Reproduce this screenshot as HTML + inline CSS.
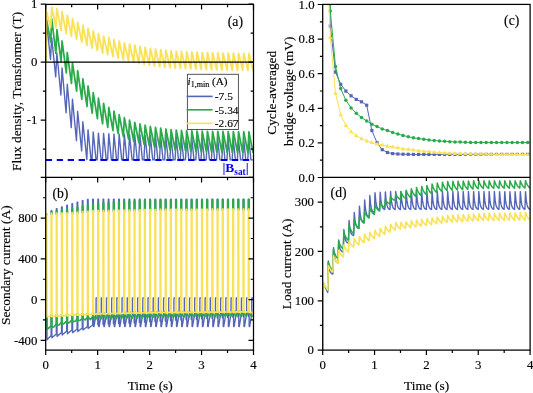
<!DOCTYPE html>
<html><head><meta charset="utf-8"><style>
html,body{margin:0;padding:0;background:#fff;}
body{width:533px;height:393px;overflow:hidden;font-family:"Liberation Serif",serif;}
svg{display:block;will-change:transform;}
</style></head><body>
<svg width="533" height="393" viewBox="0 0 533 393">
<rect width="533" height="393" fill="#fff"/>
<defs>
<clipPath id="ca"><rect x="45.7" y="4.4" width="207.8" height="173.0"/></clipPath>
<clipPath id="cb"><rect x="45.7" y="177.4" width="207.8" height="172.70000000000002"/></clipPath>
<clipPath id="cc"><rect x="322.7" y="4.4" width="207.40000000000003" height="173.0"/></clipPath>
<clipPath id="cd"><rect x="322.7" y="177.4" width="207.40000000000003" height="172.70000000000002"/></clipPath>
</defs>
<g clip-path="url(#ca)">
<path d="M46.00,62.10 L46.50,21.00 L50.50,59.40 L51.70,37.80 L55.69,76.90 L56.89,53.00 L60.88,95.00 L62.08,68.00 L66.07,112.80 L67.27,84.20 L71.26,127.60 L72.46,99.10 L76.45,140.60 L77.65,111.30 L81.64,150.90 L82.84,121.70 L86.83,159.50 L88.03,129.70 L91.05,159.90 L92.02,159.90 L93.22,132.00 L96.01,159.90 L97.21,159.90 L98.41,133.20 L101.08,159.90 L102.40,159.90 L103.60,133.47 L106.24,159.90 L107.59,159.90 L108.79,133.73 L111.41,159.90 L112.78,159.90 L113.98,134.00 L116.57,159.90 L117.97,159.90 L119.17,134.20 L121.74,159.90 L123.16,159.90 L124.36,134.40 L126.91,159.90 L128.35,159.90 L129.55,134.60 L132.08,159.90 L133.54,159.90 L134.74,134.80 L137.25,159.90 L138.73,159.90 L139.93,135.00 L142.42,159.90 L143.92,159.90 L145.12,135.38 L147.57,159.90 L149.11,159.90 L150.31,135.75 L152.72,159.90 L154.30,159.90 L155.50,136.12 L157.88,159.90 L159.49,159.90 L160.69,136.50 L163.03,159.90 L164.68,159.90 L165.88,136.88 L168.18,159.90 L169.87,159.90 L171.07,137.25 L173.33,159.90 L175.06,159.90 L176.26,137.62 L178.49,159.90 L180.25,159.90 L181.45,138.00 L183.64,159.90 L185.44,159.90 L186.64,138.21 L188.81,159.90 L190.63,159.90 L191.83,138.43 L193.98,159.90 L195.82,159.90 L197.02,138.64 L199.15,159.90 L201.01,159.90 L202.21,138.86 L204.31,159.90 L206.20,159.90 L207.40,139.07 L209.48,159.90 L211.39,159.90 L212.59,139.29 L214.65,159.90 L216.58,159.90 L217.78,139.50 L219.82,159.90 L221.77,159.90 L222.97,139.57 L225.00,159.90 L226.96,159.90 L228.16,139.64 L230.19,159.90 L232.15,159.90 L233.35,139.71 L235.37,159.90 L237.34,159.90 L238.54,139.79 L240.55,159.90 L242.53,159.90 L243.73,139.86 L245.73,159.90 L247.72,159.90 L248.92,139.93 L250.92,159.90 L252.91,159.90" fill="none" stroke="#5566b8" stroke-width="1.4" stroke-linejoin="round" />
<path d="M46.00,62.10 L46.50,19.60 L50.70,41.90 L51.70,18.90 L55.89,53.40 L56.89,29.60 L61.08,61.50 L62.08,41.00 L66.27,73.00 L67.27,52.50 L71.46,83.50 L72.46,63.00 L76.65,91.20 L77.65,70.70 L81.84,99.30 L82.84,78.80 L87.03,106.50 L88.03,86.00 L92.22,113.10 L93.22,92.60 L97.41,118.70 L98.41,98.20 L102.60,123.80 L103.60,103.30 L107.79,127.40 L108.79,107.40 L112.98,130.70 L113.98,111.20 L118.17,133.70 L119.17,114.70 L123.36,136.70 L124.36,117.70 L128.55,139.10 L129.55,120.10 L133.74,141.30 L134.74,122.30 L138.93,142.80 L139.93,123.80 L144.12,144.39 L145.12,125.20 L149.31,145.88 L150.31,126.50 L154.50,146.96 L155.50,127.40 L159.69,147.85 L160.69,128.10 L164.88,148.94 L165.88,129.00 L170.07,149.72 L171.07,129.60 L175.26,150.31 L176.26,130.00 L180.45,150.80 L181.45,130.30 L185.64,151.14 L186.64,130.60 L190.83,151.37 L191.83,130.80 L196.02,151.61 L197.02,131.00 L201.21,151.84 L202.21,131.20 L206.40,151.95 L207.40,131.27 L211.59,152.05 L212.59,131.33 L216.78,152.15 L217.78,131.40 L221.97,152.25 L222.97,131.47 L227.16,152.35 L228.16,131.53 L232.35,152.46 L233.35,131.60 L237.54,152.57 L238.54,131.68 L242.73,152.68 L243.73,131.75 L247.92,152.79 L248.92,131.82 L253.11,152.90" fill="none" stroke="#2aaa4a" stroke-width="1.75" stroke-linejoin="round" />
<path d="M46.00,62.10 L46.30,10.80 L50.70,27.20 L51.70,7.30 L55.89,27.50 L56.89,8.60 L61.08,30.50 L62.08,11.70 L66.27,33.60 L67.27,15.30 L71.46,36.10 L72.46,18.80 L76.65,39.20 L77.65,22.40 L81.84,42.27 L82.84,25.40 L87.03,45.33 L88.03,28.40 L92.22,48.00 L93.22,31.00 L97.41,50.60 L98.41,33.60 L102.60,53.10 L103.60,36.10 L107.79,54.70 L108.79,37.70 L112.98,56.60 L113.98,39.60 L118.17,58.20 L119.17,41.20 L123.36,59.80 L124.36,42.80 L128.55,61.03 L129.55,44.03 L133.74,62.27 L134.74,45.27 L138.93,63.50 L139.93,46.50 L144.12,64.40 L145.12,47.40 L149.31,65.30 L150.31,48.30 L154.50,66.20 L155.50,49.20 L159.69,66.70 L160.69,49.70 L164.88,67.20 L165.88,50.20 L170.07,67.70 L171.07,50.70 L175.26,68.20 L176.26,51.20 L180.45,68.44 L181.45,51.44 L185.64,68.68 L186.64,51.68 L190.83,68.92 L191.83,51.92 L196.02,69.16 L197.02,52.16 L201.21,69.40 L202.21,52.40 L206.40,69.56 L207.40,52.56 L211.59,69.72 L212.59,52.72 L216.78,69.88 L217.78,52.88 L221.97,70.04 L222.97,53.04 L227.16,70.20 L228.16,53.20 L232.35,70.26 L233.35,53.26 L237.54,70.32 L238.54,53.32 L242.73,70.38 L243.73,53.38 L247.92,70.44 L248.92,53.44 L253.11,70.50" fill="none" stroke="#f9e257" stroke-width="1.8" stroke-linejoin="round" />
<line x1="45.7" y1="62.1" x2="253.5" y2="62.1" stroke="#000" stroke-width="1.2"/>
<line x1="45.8" y1="159.9" x2="253.5" y2="159.9" stroke="#0000f0" stroke-width="2" stroke-dasharray="6.3 4.65"/>
</g>
<g clip-path="url(#cb)">
<path d="M46.60,213.80 L46.60,214.70 M46.92,315.60 L47.00,339.70 L51.15,335.60 L51.16,314.60 M51.20,214.70 L51.20,210.80 L51.80,210.80 L51.80,214.70 M51.84,314.60 L51.85,337.70 L56.34,334.00 L56.35,314.32 M56.39,214.60 L56.39,208.80 L56.99,208.80 L56.99,214.60 M57.03,314.32 L57.04,336.35 L61.53,332.50 L61.54,314.04 M61.58,214.50 L61.58,206.90 L62.18,206.90 L62.18,214.50 M62.22,314.04 L62.23,335.00 L66.72,331.00 L66.73,313.76 M66.77,214.40 L66.77,205.20 L67.37,205.20 L67.37,214.40 M67.41,313.76 L67.42,333.83 L71.91,330.00 L71.92,313.48 M71.96,213.96 L71.96,203.70 L72.56,203.70 L72.56,213.96 M72.60,313.48 L72.61,332.67 L77.10,329.00 L77.11,313.20 M77.15,213.52 L77.15,202.10 L77.75,202.10 L77.75,213.52 M77.79,313.20 L77.80,331.50 L82.29,328.00 L82.30,312.96 M82.34,213.08 L82.34,200.60 L82.94,200.60 L82.94,213.08 M82.98,312.96 L82.99,330.00 L87.48,326.50 L87.49,312.72 M87.52,212.64 L87.53,199.50 L88.13,199.50 L88.14,212.64 M88.17,312.72 L88.18,328.50 L92.67,325.00 L92.67,312.48 M92.71,212.20 L92.72,199.20 L93.32,199.20 L93.34,212.20 M93.45,312.48 L93.47,326.30 L93.92,326.60 L96.07,314.00 L96.12,298.00 L97.26,298.00 M97.77,312.24 L97.86,324.71 L97.86,312.24 M97.90,212.09 L97.91,199.20 L98.51,199.20 L98.53,212.09 M98.64,312.24 L98.66,326.30 L99.11,326.60 L101.26,314.00 L101.31,298.00 L102.45,298.00 M102.96,312.00 L103.05,324.42 L103.05,312.00 M103.09,211.98 L103.10,199.20 L103.70,199.20 L103.72,211.98 M103.83,312.00 L103.85,326.30 L104.30,326.60 L106.45,314.00 L106.50,298.00 L107.64,298.00 M108.15,311.89 L108.24,324.13 L108.24,311.89 M108.28,211.88 L108.29,199.20 L108.89,199.20 L108.90,211.88 M109.02,311.89 L109.04,326.30 L109.49,326.60 L111.64,314.00 L111.69,298.00 L112.83,298.00 M113.34,311.78 L113.43,323.84 L113.43,311.78 M113.47,211.77 L113.48,199.20 L114.08,199.20 L114.09,211.77 M114.21,311.78 L114.23,326.30 L114.68,326.60 L116.83,314.00 L116.88,298.00 L118.02,298.00 M118.53,311.67 L118.62,323.55 L118.62,311.67 M118.66,211.66 L118.67,199.20 L119.27,199.20 L119.28,211.66 M119.40,311.67 L119.42,326.30 L119.87,326.60 L122.02,314.00 L122.07,298.00 L123.21,298.00 M123.72,311.56 L123.81,323.26 L123.81,311.56 M123.86,211.55 L123.86,199.20 L124.46,199.20 L124.47,211.55 M124.59,311.56 L124.61,326.30 L125.06,326.60 L127.21,314.00 L127.26,298.00 L128.40,298.00 M128.91,311.45 L129.00,322.97 L129.00,311.45 M129.05,211.44 L129.05,199.20 L129.65,199.20 L129.66,211.44 M129.78,311.45 L129.80,326.30 L130.25,326.60 L132.40,314.00 L132.45,298.00 L133.59,298.00 M134.10,311.34 L134.19,322.68 L134.19,311.34 M134.24,211.33 L134.24,199.20 L134.84,199.20 L134.85,211.33 M134.97,311.34 L134.99,326.30 L135.44,326.60 L137.59,314.00 L137.64,298.00 L138.78,298.00 M139.29,311.23 L139.38,322.39 L139.38,311.23 M139.43,211.22 L139.43,199.20 L140.03,199.20 L140.04,211.22 M140.16,311.23 L140.18,326.30 L140.63,326.60 L142.78,314.00 L142.83,298.00 L143.97,298.00 M144.48,311.12 L144.57,322.10 L144.57,311.12 M144.62,211.12 L144.62,199.20 L145.22,199.20 L145.23,211.12 M145.35,311.12 L145.37,326.30 L145.82,326.60 L147.97,314.00 L148.02,298.00 L149.16,298.00 M149.67,311.01 L149.76,321.81 L149.76,311.01 M149.81,211.01 L149.81,199.20 L150.41,199.20 L150.42,211.01 M150.54,311.01 L150.56,326.30 L151.01,326.60 L153.16,314.00 L153.21,298.00 L154.35,298.00 M154.86,310.90 L154.95,321.52 L154.95,310.90 M155.00,210.90 L155.00,199.20 L155.60,199.20 L155.61,210.90 M155.73,310.90 L155.75,326.30 L156.20,326.60 L158.35,314.00 L158.40,298.00 L159.54,298.00 M160.05,310.86 L160.14,321.23 L160.14,310.86 M160.19,210.87 L160.19,199.20 L160.79,199.20 L160.80,210.87 M160.92,310.86 L160.94,326.30 L161.39,326.60 L163.54,314.00 L163.59,298.00 L164.73,298.00 M165.24,310.83 L165.33,320.94 L165.33,310.83 M165.38,210.85 L165.38,199.20 L165.98,199.20 L165.99,210.85 M166.11,310.83 L166.13,326.30 L166.58,326.60 L168.73,314.00 L168.78,298.00 L169.92,298.00 M170.43,310.79 L170.52,320.65 L170.52,310.79 M170.57,210.82 L170.57,199.20 L171.17,199.20 L171.18,210.82 M171.30,310.79 L171.32,326.30 L171.77,326.60 L173.92,314.00 L173.97,298.00 L175.11,298.00 M175.62,310.75 L175.71,320.35 L175.71,310.75 M175.76,210.79 L175.76,199.20 L176.36,199.20 L176.37,210.79 M176.49,310.75 L176.51,326.30 L176.96,326.60 L179.11,314.00 L179.16,298.00 L180.30,298.00 M180.82,310.72 L180.90,320.06 L180.90,310.72 M180.95,210.77 L180.95,199.20 L181.55,199.20 L181.56,210.77 M181.68,310.72 L181.70,326.30 L182.15,326.60 L184.30,314.00 L184.35,298.00 L185.49,298.00 M186.01,310.68 L186.09,319.77 L186.09,310.68 M186.14,210.74 L186.14,199.20 L186.74,199.20 L186.75,210.74 M186.87,310.68 L186.89,326.30 L187.34,326.60 L189.49,314.00 L189.54,298.00 L190.68,298.00 M191.20,310.64 L191.28,319.48 L191.28,310.64 M191.33,210.72 L191.33,199.20 L191.93,199.20 L191.94,210.72 M192.06,310.64 L192.08,326.30 L192.53,326.60 L194.68,314.00 L194.73,298.00 L195.87,298.00 M196.39,310.61 L196.47,319.19 L196.47,310.61 M196.52,210.69 L196.52,199.20 L197.12,199.20 L197.13,210.69 M197.25,310.61 L197.27,326.30 L197.72,326.60 L199.87,314.00 L199.92,298.00 L201.06,298.00 M201.58,310.57 L201.66,318.90 L201.66,310.57 M201.71,210.66 L201.71,199.20 L202.31,199.20 L202.32,210.66 M202.44,310.57 L202.46,326.30 L202.91,326.60 L205.06,314.00 L205.11,298.00 L206.25,298.00 M206.77,310.53 L206.85,318.61 L206.85,310.53 M206.90,210.64 L206.90,199.20 L207.50,199.20 L207.51,210.64 M207.63,310.53 L207.65,326.30 L208.10,326.60 L210.25,314.00 L210.30,298.00 L211.44,298.00 M211.96,310.49 L212.04,318.32 L212.04,310.49 M212.09,210.61 L212.09,199.20 L212.69,199.20 L212.70,210.61 M212.82,310.49 L212.84,326.30 L213.29,326.60 L215.44,314.00 L215.49,298.00 L216.63,298.00 M217.15,310.46 L217.23,318.03 L217.23,310.46 M217.28,210.58 L217.28,199.20 L217.88,199.20 L217.89,210.58 M218.01,310.46 L218.03,326.30 L218.48,326.60 L220.63,314.00 L220.68,298.00 L221.82,298.00 M222.35,310.42 L222.42,317.74 L222.42,310.42 M222.47,210.56 L222.47,199.20 L223.07,199.20 L223.08,210.56 M223.20,310.42 L223.22,326.30 L223.67,326.60 L225.82,314.00 L225.87,298.00 L227.01,298.00 M227.54,310.38 L227.61,317.45 L227.61,310.38 M227.66,210.53 L227.66,199.20 L228.26,199.20 L228.27,210.53 M228.39,310.38 L228.41,326.30 L228.86,326.60 L231.01,314.00 L231.06,298.00 L232.20,298.00 M232.73,310.35 L232.80,317.16 L232.80,310.35 M232.85,210.51 L232.85,199.20 L233.45,199.20 L233.46,210.51 M233.58,310.35 L233.60,326.30 L234.05,326.60 L236.20,314.00 L236.25,298.00 L237.39,298.00 M237.92,310.31 L237.99,316.87 L237.99,310.31 M238.04,210.48 L238.04,199.20 L238.64,199.20 L238.65,210.48 M238.77,310.31 L238.79,326.30 L239.24,326.60 L241.39,314.00 L241.44,298.00 L242.58,298.00 M243.11,310.27 L243.18,316.58 L243.18,310.27 M243.23,210.45 L243.23,199.20 L243.83,199.20 L243.84,210.45 M243.96,310.27 L243.98,326.30 L244.43,326.60 L246.58,314.00 L246.63,298.00 L247.77,298.00 M248.30,310.24 L248.37,316.29 L248.37,310.24 M248.42,210.43 L248.42,199.20 L249.02,199.20 L249.03,210.43 M249.15,310.24 L249.17,326.30 L249.62,326.60 L251.77,314.00 L251.82,298.00 L253.36,298.00 L253.50,298.00" fill="none" stroke="#5566b8" stroke-width="1.4" stroke-linejoin="round"/>
<path d="M46.60,213.80 L46.60,214.70 M46.95,315.60 L47.00,329.50 L51.15,325.90 L51.15,314.60 M51.20,214.70 L51.20,212.00 L51.80,212.00 L51.80,214.70 M51.84,314.60 L51.85,327.50 L54.10,326.70 L56.34,324.00 L56.34,314.32 M56.39,214.60 L56.39,210.80 L56.99,210.80 L56.99,214.60 M57.04,314.32 L57.04,325.50 L59.29,324.70 L61.53,322.00 L61.53,314.04 M61.58,214.50 L61.58,209.80 L62.18,209.80 L62.18,214.50 M62.23,314.04 L62.23,324.50 L64.48,323.20 L66.72,321.00 L66.72,313.76 M66.77,214.40 L66.77,209.00 L67.37,209.00 L67.37,214.40 M67.42,313.76 L67.42,323.50 L69.67,322.20 L71.91,320.00 L71.91,313.48 M71.96,213.96 L71.96,208.20 L72.56,208.20 L72.56,213.96 M72.61,313.48 L72.61,322.00 L74.86,321.27 L77.10,319.25 L77.10,313.20 M77.15,213.52 L77.15,207.20 L77.75,207.20 L77.75,213.52 M77.80,313.20 L77.80,320.50 L80.05,320.43 L82.29,318.50 L82.29,312.96 M82.34,213.08 L82.34,206.00 L82.94,206.00 L82.94,213.08 M82.99,312.96 L82.99,318.75 L85.24,319.88 L87.48,317.50 L87.48,312.72 M87.53,212.64 L87.53,205.20 L88.13,205.20 L88.13,212.64 M88.18,312.72 L88.18,317.00 L90.43,319.62 L92.67,316.50 L92.67,312.48 M92.72,212.20 L92.72,204.40 L93.32,204.40 L93.32,212.20 M93.37,312.48 L93.37,315.75 L95.62,319.38 L97.86,315.50 L97.86,312.24 M97.91,212.09 L97.91,203.70 L98.51,203.70 L98.51,212.09 M98.56,312.24 L98.56,314.50 L100.81,319.12 L103.05,314.50 L103.05,312.00 M103.10,211.98 L103.10,202.90 L103.70,202.90 L103.70,211.98 M103.75,312.00 L103.75,314.40 L106.00,318.93 L108.24,314.40 L108.24,311.89 M108.29,211.88 L108.29,202.52 L108.89,202.52 L108.89,211.88 M108.94,311.89 L108.94,314.30 L111.19,318.77 L113.43,314.30 L113.43,311.78 M113.48,211.77 L113.48,202.14 L114.08,202.14 L114.08,211.77 M114.13,311.78 L114.13,314.20 L116.38,318.62 L118.62,314.20 L118.62,311.67 M118.67,211.66 L118.67,201.76 L119.27,201.76 L119.27,211.66 M119.32,311.67 L119.32,314.10 L121.57,318.48 L123.81,314.10 L123.81,311.56 M123.86,211.55 L123.86,201.38 L124.46,201.38 L124.46,211.55 M124.51,311.56 L124.51,314.00 L126.76,318.32 L129.00,314.00 L129.00,311.45 M129.05,211.44 L129.05,201.00 L129.65,201.00 L129.65,211.44 M129.70,311.45 L129.70,313.90 L131.95,318.18 L134.19,313.90 L134.19,311.34 M134.24,211.33 L134.24,200.80 L134.84,200.80 L134.84,211.33 M134.89,311.34 L134.89,313.80 L137.14,318.02 L139.38,313.80 L139.38,311.23 M139.43,211.22 L139.43,200.60 L140.03,200.60 L140.03,211.22 M140.08,311.23 L140.08,313.70 L142.33,317.88 L144.57,313.70 L144.57,311.12 M144.62,211.12 L144.62,200.40 L145.22,200.40 L145.22,211.12 M145.27,311.12 L145.27,313.60 L147.52,317.73 L149.76,313.60 L149.76,311.01 M149.81,211.01 L149.81,200.20 L150.41,200.20 L150.41,211.01 M150.46,311.01 L150.46,313.50 L152.71,317.57 L154.95,313.50 L154.95,310.90 M155.00,210.90 L155.00,200.00 L155.60,200.00 L155.60,210.90 M155.65,310.90 L155.65,313.45 L157.90,317.46 L160.14,313.45 L160.14,310.86 M160.19,210.87 L160.19,199.97 L160.79,199.97 L160.79,210.87 M160.84,310.86 L160.84,313.39 L163.09,317.38 L165.33,313.39 L165.33,310.83 M165.38,210.85 L165.38,199.95 L165.98,199.95 L165.98,210.85 M166.03,310.83 L166.03,313.34 L168.28,317.30 L170.52,313.34 L170.52,310.79 M170.57,210.82 L170.57,199.92 L171.17,199.92 L171.17,210.82 M171.22,310.79 L171.22,313.29 L173.47,317.22 L175.71,313.29 L175.71,310.75 M175.76,210.79 L175.76,199.89 L176.36,199.89 L176.36,210.79 M176.41,310.75 L176.41,313.24 L178.66,317.14 L180.90,313.24 L180.90,310.72 M180.95,210.77 L180.95,199.87 L181.55,199.87 L181.55,210.77 M181.60,310.72 L181.60,313.18 L183.85,317.07 L186.09,313.18 L186.09,310.68 M186.14,210.74 L186.14,199.84 L186.74,199.84 L186.74,210.74 M186.79,310.68 L186.79,313.13 L189.04,316.99 L191.28,313.13 L191.28,310.64 M191.33,210.72 L191.33,199.82 L191.93,199.82 L191.93,210.72 M191.98,310.64 L191.98,313.08 L194.23,316.91 L196.47,313.08 L196.47,310.61 M196.52,210.69 L196.52,199.79 L197.12,199.79 L197.12,210.69 M197.17,310.61 L197.17,313.03 L199.42,316.83 L201.66,313.03 L201.66,310.57 M201.71,210.66 L201.71,199.76 L202.31,199.76 L202.31,210.66 M202.36,310.57 L202.36,312.97 L204.61,316.75 L206.85,312.97 L206.85,310.53 M206.90,210.64 L206.90,199.74 L207.50,199.74 L207.50,210.64 M207.55,310.53 L207.55,312.92 L209.80,316.67 L212.04,312.92 L212.04,310.49 M212.09,210.61 L212.09,199.71 L212.69,199.71 L212.69,210.61 M212.74,310.49 L212.74,312.87 L214.99,316.59 L217.23,312.87 L217.23,310.46 M217.28,210.58 L217.28,199.68 L217.88,199.68 L217.88,210.58 M217.93,310.46 L217.93,312.82 L220.18,316.51 L222.42,312.82 L222.42,310.42 M222.47,210.56 L222.47,199.66 L223.07,199.66 L223.07,210.56 M223.12,310.42 L223.12,312.76 L225.37,316.43 L227.61,312.76 L227.61,310.38 M227.66,210.53 L227.66,199.63 L228.26,199.63 L228.26,210.53 M228.31,310.38 L228.31,312.71 L230.56,316.36 L232.80,312.71 L232.80,310.35 M232.85,210.51 L232.85,199.61 L233.45,199.61 L233.45,210.51 M233.50,310.35 L233.50,312.66 L235.75,316.28 L237.99,312.66 L237.99,310.31 M238.04,210.48 L238.04,199.58 L238.64,199.58 L238.64,210.48 M238.69,310.31 L238.69,312.61 L240.94,316.20 L243.18,312.61 L243.18,310.27 M243.23,210.45 L243.23,199.55 L243.83,199.55 L243.83,210.45 M243.88,310.27 L243.88,312.55 L246.13,316.12 L248.37,312.55 L248.37,310.24 M248.42,210.43 L248.42,199.53 L249.02,199.53 L249.02,210.43 M249.07,310.24 L249.07,312.50 L251.32,316.04 L253.50,316.04" fill="none" stroke="#2aaa4a" stroke-width="1.7" stroke-linejoin="round"/>
<path d="M46.60,213.80 L47.00,317.00 L51.15,316.00 L51.20,213.30 L51.80,213.30 L51.85,316.70 L56.34,315.72 L56.39,213.20 L56.99,213.20 L57.04,316.40 L61.53,315.44 L61.58,213.10 L62.18,213.10 L62.23,316.10 L66.72,315.16 L66.77,213.00 L67.37,213.00 L67.42,315.80 L71.91,314.88 L71.96,212.56 L72.56,212.56 L72.61,315.50 L77.10,314.60 L77.15,212.12 L77.75,212.12 L77.80,315.24 L82.29,314.36 L82.34,211.68 L82.94,211.68 L82.99,314.98 L87.48,314.12 L87.53,211.24 L88.13,211.24 L88.18,314.72 L92.67,313.88 L92.72,210.80 L93.32,210.80 L93.37,314.46 L97.86,313.64 L97.91,210.69 L98.51,210.69 L98.56,314.20 L103.05,313.40 L103.10,210.58 L103.70,210.58 L103.75,314.08 L108.24,313.29 L108.29,210.48 L108.89,210.48 L108.94,313.96 L113.43,313.18 L113.48,210.37 L114.08,210.37 L114.13,313.84 L118.62,313.07 L118.67,210.26 L119.27,210.26 L119.32,313.72 L123.81,312.96 L123.86,210.15 L124.46,210.15 L124.51,313.60 L129.00,312.85 L129.05,210.04 L129.65,210.04 L129.70,313.48 L134.19,312.74 L134.24,209.93 L134.84,209.93 L134.89,313.36 L139.38,312.63 L139.43,209.82 L140.03,209.82 L140.08,313.24 L144.57,312.52 L144.62,209.72 L145.22,209.72 L145.27,313.12 L149.76,312.41 L149.81,209.61 L150.41,209.61 L150.46,313.00 L154.95,312.30 L155.00,209.50 L155.60,209.50 L155.65,312.96 L160.14,312.26 L160.19,209.47 L160.79,209.47 L160.84,312.93 L165.33,312.23 L165.38,209.45 L165.98,209.45 L166.03,312.89 L170.52,312.19 L170.57,209.42 L171.17,209.42 L171.22,312.85 L175.71,312.15 L175.76,209.39 L176.36,209.39 L176.41,312.82 L180.90,312.12 L180.95,209.37 L181.55,209.37 L181.60,312.78 L186.09,312.08 L186.14,209.34 L186.74,209.34 L186.79,312.74 L191.28,312.04 L191.33,209.32 L191.93,209.32 L191.98,312.71 L196.47,312.01 L196.52,209.29 L197.12,209.29 L197.17,312.67 L201.66,311.97 L201.71,209.26 L202.31,209.26 L202.36,312.63 L206.85,311.93 L206.90,209.24 L207.50,209.24 L207.55,312.59 L212.04,311.89 L212.09,209.21 L212.69,209.21 L212.74,312.56 L217.23,311.86 L217.28,209.18 L217.88,209.18 L217.93,312.52 L222.42,311.82 L222.47,209.16 L223.07,209.16 L223.12,312.48 L227.61,311.78 L227.66,209.13 L228.26,209.13 L228.31,312.45 L232.80,311.75 L232.85,209.11 L233.45,209.11 L233.50,312.41 L237.99,311.71 L238.04,209.08 L238.64,209.08 L238.69,312.37 L243.18,311.67 L243.23,209.05 L243.83,209.05 L243.88,312.34 L248.37,311.64 L248.42,209.03 L249.02,209.03 L249.07,312.30 L253.50,312.30" fill="none" stroke="#f9e257" stroke-width="1.7" stroke-linejoin="round" />
</g>
<g clip-path="url(#cc)">
<path d="M329.70,3.40 L330.30,26.00 L335.50,72.10 L340.69,84.30 L345.88,91.10 L351.08,95.80 L356.28,99.40 L361.47,101.80 L366.67,105.20 L371.86,130.50 L377.06,142.80 L382.25,149.70 L387.44,152.50 L392.64,153.60 L397.84,154.00 L403.03,154.20 L408.23,154.30 L413.42,154.40 L418.62,154.40 L423.81,154.40 L429.00,154.40 L434.20,154.40 L439.39,154.40 L444.59,154.40 L449.79,154.40 L454.98,154.40 L460.18,154.40 L465.37,154.40 L470.57,154.40 L475.76,154.40 L480.96,154.40 L486.15,154.40 L491.35,154.40 L496.54,154.40 L501.74,154.40 L506.93,154.40 L512.12,154.40 L517.32,154.40 L522.51,154.40 L527.71,154.40" fill="none" stroke="#5566b8" stroke-width="1.0" stroke-linejoin="round" />
<rect x="328.70" y="24.40" width="3.2" height="3.2" fill="#5566b8"/>
<rect x="333.89" y="70.50" width="3.2" height="3.2" fill="#5566b8"/>
<rect x="339.09" y="82.70" width="3.2" height="3.2" fill="#5566b8"/>
<rect x="344.28" y="89.50" width="3.2" height="3.2" fill="#5566b8"/>
<rect x="349.48" y="94.20" width="3.2" height="3.2" fill="#5566b8"/>
<rect x="354.68" y="97.80" width="3.2" height="3.2" fill="#5566b8"/>
<rect x="359.87" y="100.20" width="3.2" height="3.2" fill="#5566b8"/>
<rect x="365.06" y="103.60" width="3.2" height="3.2" fill="#5566b8"/>
<rect x="370.26" y="128.90" width="3.2" height="3.2" fill="#5566b8"/>
<rect x="375.45" y="141.20" width="3.2" height="3.2" fill="#5566b8"/>
<rect x="380.65" y="148.10" width="3.2" height="3.2" fill="#5566b8"/>
<rect x="385.84" y="150.90" width="3.2" height="3.2" fill="#5566b8"/>
<rect x="391.04" y="152.00" width="3.2" height="3.2" fill="#5566b8"/>
<rect x="396.24" y="152.40" width="3.2" height="3.2" fill="#5566b8"/>
<rect x="401.43" y="152.60" width="3.2" height="3.2" fill="#5566b8"/>
<rect x="406.62" y="152.70" width="3.2" height="3.2" fill="#5566b8"/>
<rect x="411.82" y="152.80" width="3.2" height="3.2" fill="#5566b8"/>
<rect x="417.01" y="152.80" width="3.2" height="3.2" fill="#5566b8"/>
<rect x="422.21" y="152.80" width="3.2" height="3.2" fill="#5566b8"/>
<rect x="427.40" y="152.80" width="3.2" height="3.2" fill="#5566b8"/>
<rect x="432.60" y="152.80" width="3.2" height="3.2" fill="#5566b8"/>
<rect x="437.79" y="152.80" width="3.2" height="3.2" fill="#5566b8"/>
<rect x="442.99" y="152.80" width="3.2" height="3.2" fill="#5566b8"/>
<rect x="448.19" y="152.80" width="3.2" height="3.2" fill="#5566b8"/>
<rect x="453.38" y="152.80" width="3.2" height="3.2" fill="#5566b8"/>
<rect x="458.57" y="152.80" width="3.2" height="3.2" fill="#5566b8"/>
<rect x="463.77" y="152.80" width="3.2" height="3.2" fill="#5566b8"/>
<rect x="468.97" y="152.80" width="3.2" height="3.2" fill="#5566b8"/>
<rect x="474.16" y="152.80" width="3.2" height="3.2" fill="#5566b8"/>
<rect x="479.36" y="152.80" width="3.2" height="3.2" fill="#5566b8"/>
<rect x="484.55" y="152.80" width="3.2" height="3.2" fill="#5566b8"/>
<rect x="489.75" y="152.80" width="3.2" height="3.2" fill="#5566b8"/>
<rect x="494.94" y="152.80" width="3.2" height="3.2" fill="#5566b8"/>
<rect x="500.13" y="152.80" width="3.2" height="3.2" fill="#5566b8"/>
<rect x="505.33" y="152.80" width="3.2" height="3.2" fill="#5566b8"/>
<rect x="510.52" y="152.80" width="3.2" height="3.2" fill="#5566b8"/>
<rect x="515.72" y="152.80" width="3.2" height="3.2" fill="#5566b8"/>
<rect x="520.91" y="152.80" width="3.2" height="3.2" fill="#5566b8"/>
<rect x="526.11" y="152.80" width="3.2" height="3.2" fill="#5566b8"/>
<path d="M330.50,3.40 L330.30,11.00 L335.50,66.50 L340.69,88.60 L345.88,100.20 L351.08,107.90 L356.28,113.30 L361.47,117.40 L366.67,121.00 L371.86,124.20 L377.06,126.60 L382.25,128.90 L387.44,130.60 L392.64,132.40 L397.84,134.00 L403.03,135.50 L408.23,136.70 L413.42,137.80 L418.62,138.50 L423.81,139.30 L429.00,140.00 L434.20,140.50 L439.39,141.00 L444.59,141.30 L449.79,141.70 L454.98,141.90 L460.18,142.10 L465.37,142.20 L470.57,142.40 L475.76,142.50 L480.96,142.50 L486.15,142.50 L491.35,142.60 L496.54,142.60 L501.74,142.60 L506.93,142.60 L512.12,142.60 L517.32,142.60 L522.51,142.60 L527.71,142.60" fill="none" stroke="#2aaa4a" stroke-width="1.0" stroke-linejoin="round" />
<circle cx="330.30" cy="11.00" r="1.75" fill="#2aaa4a"/>
<circle cx="335.50" cy="66.50" r="1.75" fill="#2aaa4a"/>
<circle cx="340.69" cy="88.60" r="1.75" fill="#2aaa4a"/>
<circle cx="345.88" cy="100.20" r="1.75" fill="#2aaa4a"/>
<circle cx="351.08" cy="107.90" r="1.75" fill="#2aaa4a"/>
<circle cx="356.28" cy="113.30" r="1.75" fill="#2aaa4a"/>
<circle cx="361.47" cy="117.40" r="1.75" fill="#2aaa4a"/>
<circle cx="366.67" cy="121.00" r="1.75" fill="#2aaa4a"/>
<circle cx="371.86" cy="124.20" r="1.75" fill="#2aaa4a"/>
<circle cx="377.06" cy="126.60" r="1.75" fill="#2aaa4a"/>
<circle cx="382.25" cy="128.90" r="1.75" fill="#2aaa4a"/>
<circle cx="387.44" cy="130.60" r="1.75" fill="#2aaa4a"/>
<circle cx="392.64" cy="132.40" r="1.75" fill="#2aaa4a"/>
<circle cx="397.84" cy="134.00" r="1.75" fill="#2aaa4a"/>
<circle cx="403.03" cy="135.50" r="1.75" fill="#2aaa4a"/>
<circle cx="408.23" cy="136.70" r="1.75" fill="#2aaa4a"/>
<circle cx="413.42" cy="137.80" r="1.75" fill="#2aaa4a"/>
<circle cx="418.62" cy="138.50" r="1.75" fill="#2aaa4a"/>
<circle cx="423.81" cy="139.30" r="1.75" fill="#2aaa4a"/>
<circle cx="429.00" cy="140.00" r="1.75" fill="#2aaa4a"/>
<circle cx="434.20" cy="140.50" r="1.75" fill="#2aaa4a"/>
<circle cx="439.39" cy="141.00" r="1.75" fill="#2aaa4a"/>
<circle cx="444.59" cy="141.30" r="1.75" fill="#2aaa4a"/>
<circle cx="449.79" cy="141.70" r="1.75" fill="#2aaa4a"/>
<circle cx="454.98" cy="141.90" r="1.75" fill="#2aaa4a"/>
<circle cx="460.18" cy="142.10" r="1.75" fill="#2aaa4a"/>
<circle cx="465.37" cy="142.20" r="1.75" fill="#2aaa4a"/>
<circle cx="470.57" cy="142.40" r="1.75" fill="#2aaa4a"/>
<circle cx="475.76" cy="142.50" r="1.75" fill="#2aaa4a"/>
<circle cx="480.96" cy="142.50" r="1.75" fill="#2aaa4a"/>
<circle cx="486.15" cy="142.50" r="1.75" fill="#2aaa4a"/>
<circle cx="491.35" cy="142.60" r="1.75" fill="#2aaa4a"/>
<circle cx="496.54" cy="142.60" r="1.75" fill="#2aaa4a"/>
<circle cx="501.74" cy="142.60" r="1.75" fill="#2aaa4a"/>
<circle cx="506.93" cy="142.60" r="1.75" fill="#2aaa4a"/>
<circle cx="512.12" cy="142.60" r="1.75" fill="#2aaa4a"/>
<circle cx="517.32" cy="142.60" r="1.75" fill="#2aaa4a"/>
<circle cx="522.51" cy="142.60" r="1.75" fill="#2aaa4a"/>
<circle cx="527.71" cy="142.60" r="1.75" fill="#2aaa4a"/>
<path d="M328.90,3.40 L330.30,37.30 L335.50,93.40 L340.69,114.60 L345.88,125.40 L351.08,131.60 L356.28,135.60 L361.47,138.60 L366.67,140.80 L371.86,142.30 L377.06,143.90 L382.25,144.90 L387.44,146.20 L392.64,146.90 L397.84,147.70 L403.03,148.80 L408.23,149.20 L413.42,150.00 L418.62,150.70 L423.81,151.20 L429.00,151.70 L434.20,152.10 L439.39,152.50 L444.59,152.80 L449.79,153.10 L454.98,153.30 L460.18,153.50 L465.37,153.70 L470.57,153.80 L475.76,153.90 L480.96,154.00 L486.15,154.10 L491.35,154.20 L496.54,154.30 L501.74,154.40 L506.93,154.40 L512.12,154.50 L517.32,154.50 L522.51,154.50 L527.71,154.50" fill="none" stroke="#f9e257" stroke-width="1.0" stroke-linejoin="round" />
<path d="M328.10,38.90 L332.50,38.90 L330.30,34.90 Z" fill="#f9e257"/>
<path d="M333.30,95.00 L337.69,95.00 L335.50,91.00 Z" fill="#f9e257"/>
<path d="M338.49,116.20 L342.89,116.20 L340.69,112.20 Z" fill="#f9e257"/>
<path d="M343.69,127.00 L348.08,127.00 L345.88,123.00 Z" fill="#f9e257"/>
<path d="M348.88,133.20 L353.28,133.20 L351.08,129.20 Z" fill="#f9e257"/>
<path d="M354.08,137.20 L358.48,137.20 L356.28,133.20 Z" fill="#f9e257"/>
<path d="M359.27,140.20 L363.67,140.20 L361.47,136.20 Z" fill="#f9e257"/>
<path d="M364.47,142.40 L368.87,142.40 L366.67,138.40 Z" fill="#f9e257"/>
<path d="M369.66,143.90 L374.06,143.90 L371.86,139.90 Z" fill="#f9e257"/>
<path d="M374.86,145.50 L379.25,145.50 L377.06,141.50 Z" fill="#f9e257"/>
<path d="M380.05,146.50 L384.45,146.50 L382.25,142.50 Z" fill="#f9e257"/>
<path d="M385.25,147.80 L389.64,147.80 L387.44,143.80 Z" fill="#f9e257"/>
<path d="M390.44,148.50 L394.84,148.50 L392.64,144.50 Z" fill="#f9e257"/>
<path d="M395.64,149.30 L400.04,149.30 L397.84,145.30 Z" fill="#f9e257"/>
<path d="M400.83,150.40 L405.23,150.40 L403.03,146.40 Z" fill="#f9e257"/>
<path d="M406.03,150.80 L410.43,150.80 L408.23,146.80 Z" fill="#f9e257"/>
<path d="M411.22,151.60 L415.62,151.60 L413.42,147.60 Z" fill="#f9e257"/>
<path d="M416.42,152.30 L420.81,152.30 L418.62,148.30 Z" fill="#f9e257"/>
<path d="M421.61,152.80 L426.01,152.80 L423.81,148.80 Z" fill="#f9e257"/>
<path d="M426.81,153.30 L431.20,153.30 L429.00,149.30 Z" fill="#f9e257"/>
<path d="M432.00,153.70 L436.40,153.70 L434.20,149.70 Z" fill="#f9e257"/>
<path d="M437.19,154.10 L441.59,154.10 L439.39,150.10 Z" fill="#f9e257"/>
<path d="M442.39,154.40 L446.79,154.40 L444.59,150.40 Z" fill="#f9e257"/>
<path d="M447.59,154.70 L451.99,154.70 L449.79,150.70 Z" fill="#f9e257"/>
<path d="M452.78,154.90 L457.18,154.90 L454.98,150.90 Z" fill="#f9e257"/>
<path d="M457.98,155.10 L462.38,155.10 L460.18,151.10 Z" fill="#f9e257"/>
<path d="M463.17,155.30 L467.57,155.30 L465.37,151.30 Z" fill="#f9e257"/>
<path d="M468.37,155.40 L472.77,155.40 L470.57,151.40 Z" fill="#f9e257"/>
<path d="M473.56,155.50 L477.96,155.50 L475.76,151.50 Z" fill="#f9e257"/>
<path d="M478.76,155.60 L483.16,155.60 L480.96,151.60 Z" fill="#f9e257"/>
<path d="M483.95,155.70 L488.35,155.70 L486.15,151.70 Z" fill="#f9e257"/>
<path d="M489.15,155.80 L493.55,155.80 L491.35,151.80 Z" fill="#f9e257"/>
<path d="M494.34,155.90 L498.74,155.90 L496.54,151.90 Z" fill="#f9e257"/>
<path d="M499.54,156.00 L503.94,156.00 L501.74,152.00 Z" fill="#f9e257"/>
<path d="M504.73,156.00 L509.13,156.00 L506.93,152.00 Z" fill="#f9e257"/>
<path d="M509.93,156.10 L514.33,156.10 L512.12,152.10 Z" fill="#f9e257"/>
<path d="M515.12,156.10 L519.52,156.10 L517.32,152.10 Z" fill="#f9e257"/>
<path d="M520.31,156.10 L524.72,156.10 L522.51,152.10 Z" fill="#f9e257"/>
<path d="M525.51,156.10 L529.91,156.10 L527.71,152.10 Z" fill="#f9e257"/>
</g>
<g clip-path="url(#cd)">
<path d="M323.20,350.00 L323.30,283.30 L327.70,292.40 L328.30,260.90 L329.06,267.44 L329.83,270.80 L330.60,272.53 L331.36,273.41 L332.12,273.87 L332.89,274.10 L333.49,247.60 L334.25,255.18 L335.02,259.08 L335.78,261.08 L336.55,262.10 L337.31,262.63 L338.08,262.90 L338.68,240.00 L339.44,245.95 L340.21,249.00 L340.98,250.57 L341.74,251.37 L342.50,251.79 L343.27,252.00 L343.87,229.50 L344.63,236.19 L345.40,239.63 L346.16,241.39 L346.93,242.30 L347.69,242.76 L348.46,243.00 L349.06,220.50 L349.82,227.93 L350.59,231.75 L351.36,233.71 L352.12,234.72 L352.88,235.23 L353.65,235.50 L354.25,212.40 L355.01,220.33 L355.78,224.40 L356.54,226.49 L357.31,227.57 L358.07,228.12 L358.84,228.40 L359.44,206.10 L360.20,214.08 L360.97,218.18 L361.74,220.28 L362.50,221.36 L363.26,221.92 L364.03,222.20 L364.63,199.90 L365.39,208.28 L366.16,212.58 L366.92,214.79 L367.69,215.92 L368.45,216.50 L369.22,216.80 L369.82,195.50 L370.58,203.88 L371.35,208.18 L372.12,210.39 L372.88,211.52 L373.64,212.10 L374.41,212.40 L375.01,192.80 L375.77,201.18 L376.54,205.48 L377.31,207.69 L378.07,208.82 L378.84,209.40 L379.60,209.70 L380.20,192.30 L380.97,200.83 L381.73,205.20 L382.50,207.45 L383.26,208.60 L384.02,209.20 L384.79,209.50 L385.39,191.90 L386.15,200.62 L386.92,205.10 L387.69,207.40 L388.45,208.58 L389.22,209.18 L389.98,209.49 L390.58,191.50 L391.35,200.41 L392.11,204.99 L392.88,207.34 L393.64,208.55 L394.40,209.17 L395.17,209.49 L395.77,191.50 L396.53,200.41 L397.30,204.99 L398.06,207.34 L398.83,208.54 L399.60,209.16 L400.36,209.48 L400.96,191.51 L401.73,200.41 L402.49,204.98 L403.25,207.33 L404.02,208.54 L404.79,209.15 L405.55,209.47 L406.15,191.51 L406.92,200.41 L407.68,204.98 L408.45,207.32 L409.21,208.53 L409.98,209.15 L410.74,209.46 L411.34,191.51 L412.11,200.41 L412.87,204.97 L413.63,207.32 L414.40,208.52 L415.17,209.14 L415.93,209.46 L416.53,191.52 L417.30,200.41 L418.06,204.97 L418.83,207.31 L419.59,208.52 L420.36,209.13 L421.12,209.45 L421.72,191.52 L422.49,200.40 L423.25,204.97 L424.01,207.31 L424.78,208.51 L425.55,209.13 L426.31,209.44 L426.91,191.53 L427.68,200.40 L428.44,204.96 L429.21,207.30 L429.97,208.50 L430.74,209.12 L431.50,209.44 L432.10,191.53 L432.87,200.40 L433.63,204.96 L434.39,207.29 L435.16,208.50 L435.93,209.11 L436.69,209.43 L437.29,191.53 L438.06,200.40 L438.82,204.95 L439.59,207.29 L440.35,208.49 L441.12,209.11 L441.88,209.42 L442.48,191.54 L443.25,200.40 L444.01,204.95 L444.77,207.28 L445.54,208.48 L446.31,209.10 L447.07,209.41 L447.67,191.54 L448.44,200.40 L449.20,204.94 L449.97,207.28 L450.73,208.48 L451.50,209.09 L452.26,209.41 L452.86,191.54 L453.62,200.39 L454.39,204.94 L455.15,207.27 L455.92,208.47 L456.69,209.08 L457.45,209.40 L458.05,191.55 L458.81,200.39 L459.58,204.93 L460.35,207.27 L461.11,208.46 L461.88,209.08 L462.64,209.39 L463.24,191.55 L464.00,200.39 L464.77,204.93 L465.54,207.26 L466.30,208.46 L467.07,209.07 L467.83,209.39 L468.43,191.56 L469.20,200.39 L469.96,204.93 L470.73,207.25 L471.49,208.45 L472.25,209.06 L473.02,209.38 L473.62,191.56 L474.38,200.39 L475.15,204.92 L475.92,207.25 L476.68,208.44 L477.45,209.06 L478.21,209.37 L478.81,191.56 L479.58,200.39 L480.34,204.92 L481.11,207.24 L481.87,208.44 L482.63,209.05 L483.40,209.36 L484.00,191.57 L484.76,200.38 L485.53,204.91 L486.30,207.24 L487.06,208.43 L487.83,209.04 L488.59,209.36 L489.19,191.57 L489.96,200.38 L490.72,204.91 L491.49,207.23 L492.25,208.42 L493.01,209.04 L493.78,209.35 L494.38,191.57 L495.14,200.38 L495.91,204.90 L496.68,207.22 L497.44,208.42 L498.21,209.03 L498.97,209.34 L499.57,191.58 L500.34,200.38 L501.10,204.90 L501.87,207.22 L502.63,208.41 L503.39,209.02 L504.16,209.34 L504.76,191.58 L505.52,200.38 L506.29,204.89 L507.06,207.21 L507.82,208.40 L508.59,209.01 L509.35,209.33 L509.95,191.59 L510.72,200.38 L511.48,204.89 L512.25,207.21 L513.01,208.40 L513.77,209.01 L514.54,209.32 L515.14,191.59 L515.90,200.37 L516.67,204.89 L517.43,207.20 L518.20,208.39 L518.97,209.00 L519.73,209.31 L520.33,191.59 L521.10,200.37 L521.86,204.88 L522.62,207.20 L523.39,208.38 L524.15,208.99 L524.92,209.31 L525.52,191.60 L526.28,200.37 L527.05,204.88 L527.81,207.19 L528.57,208.38 L529.34,208.99 L530.10,209.30" fill="none" stroke="#5566b8" stroke-width="1.4" stroke-linejoin="round" />
<path d="M323.20,350.00 L323.30,283.30 L327.70,290.50 L328.30,261.90 L329.06,264.35 L329.83,266.26 L330.60,267.74 L331.36,268.90 L332.12,269.80 L332.89,270.50 L333.49,249.20 L334.25,251.99 L335.02,254.16 L335.78,255.86 L336.55,257.17 L337.31,258.20 L338.08,259.00 L338.68,241.00 L339.44,243.28 L340.21,245.05 L340.98,246.43 L341.74,247.51 L342.50,248.35 L343.27,249.00 L343.87,232.00 L344.63,234.42 L345.40,236.31 L346.16,237.77 L346.93,238.92 L347.69,239.81 L348.46,240.50 L349.06,225.00 L349.82,227.48 L350.59,229.41 L351.36,230.91 L352.12,232.08 L352.88,232.99 L353.65,233.70 L354.25,219.50 L355.01,222.05 L355.78,224.04 L356.54,225.59 L357.31,226.80 L358.07,227.74 L358.84,228.47 L359.44,215.67 L360.20,217.82 L360.97,219.50 L361.74,220.81 L362.50,221.82 L363.26,222.62 L364.03,223.23 L364.63,211.83 L365.39,213.59 L366.16,214.96 L366.92,216.02 L367.69,216.85 L368.45,217.50 L369.22,218.00 L369.82,208.00 L370.58,209.85 L371.35,211.29 L372.12,212.41 L372.88,213.29 L373.64,213.97 L374.41,214.50 L375.01,205.14 L375.77,206.81 L376.54,208.11 L377.31,209.12 L378.07,209.91 L378.84,210.52 L379.60,211.00 L380.20,202.28 L380.97,203.77 L381.73,204.92 L382.50,205.83 L383.26,206.53 L384.02,207.07 L384.79,207.50 L385.39,199.42 L386.15,200.72 L386.92,201.74 L387.69,202.53 L388.45,203.15 L389.22,203.63 L389.98,204.00 L390.58,196.56 L391.35,197.68 L392.11,198.56 L392.88,199.24 L393.64,199.77 L394.40,200.18 L395.17,200.50 L395.77,193.70 L396.53,195.35 L397.30,196.64 L398.06,197.64 L398.83,198.42 L399.60,199.03 L400.36,199.50 L400.96,191.80 L401.73,193.71 L402.49,195.19 L403.25,196.35 L404.02,197.25 L404.79,197.95 L405.55,198.50 L406.15,190.20 L406.92,192.28 L407.68,193.90 L408.45,195.16 L409.21,196.14 L409.98,196.90 L410.74,197.50 L411.34,188.70 L412.11,190.92 L412.87,192.65 L413.63,194.00 L414.40,195.05 L415.17,195.86 L415.93,196.50 L416.53,187.50 L417.30,189.78 L418.06,191.55 L418.83,192.93 L419.59,194.01 L420.36,194.85 L421.12,195.50 L421.72,186.40 L422.49,188.71 L423.25,190.50 L424.01,191.90 L424.78,192.99 L425.55,193.84 L426.31,194.50 L426.91,185.40 L427.68,187.71 L428.44,189.50 L429.21,190.90 L429.97,191.99 L430.74,192.84 L431.50,193.50 L432.10,184.10 L432.87,186.49 L433.63,188.35 L434.39,189.81 L435.16,190.93 L435.93,191.81 L436.69,192.50 L437.29,182.90 L438.06,185.35 L438.82,187.26 L439.59,188.74 L440.35,189.90 L441.12,190.80 L441.88,191.50 L442.48,182.30 L443.25,184.63 L444.01,186.45 L444.77,187.87 L445.54,188.97 L446.31,189.83 L447.07,190.50 L447.67,181.40 L448.44,183.91 L449.20,185.86 L449.97,187.39 L450.73,188.57 L451.50,189.50 L452.26,190.21 L452.86,181.28 L453.62,183.74 L454.39,185.66 L455.15,187.15 L455.92,188.32 L456.69,189.22 L457.45,189.93 L458.05,181.16 L458.81,183.58 L459.58,185.46 L460.35,186.92 L461.11,188.06 L461.88,188.95 L462.64,189.64 L463.24,181.04 L464.00,183.41 L464.77,185.25 L465.54,186.69 L466.30,187.81 L467.07,188.68 L467.83,189.36 L468.43,180.92 L469.20,183.24 L469.96,185.05 L470.73,186.46 L471.49,187.55 L472.25,188.41 L473.02,189.07 L473.62,180.80 L474.38,183.07 L475.15,184.84 L475.92,186.22 L476.68,187.30 L477.45,188.13 L478.21,188.79 L478.81,180.78 L479.58,182.98 L480.34,184.69 L481.11,186.02 L481.87,187.06 L482.63,187.87 L483.40,188.50 L484.00,180.76 L484.76,182.95 L485.53,184.65 L486.30,185.98 L487.06,187.01 L487.83,187.82 L488.59,188.44 L489.19,180.75 L489.96,182.92 L490.72,184.62 L491.49,185.94 L492.25,186.96 L493.01,187.77 L493.78,188.39 L494.38,180.73 L495.14,182.89 L495.91,184.58 L496.68,185.89 L497.44,186.92 L498.21,187.71 L498.97,188.33 L499.57,180.71 L500.34,182.86 L501.10,184.54 L501.87,185.85 L502.63,186.87 L503.39,187.66 L504.16,188.28 L504.76,180.69 L505.52,182.84 L506.29,184.51 L507.06,185.81 L507.82,186.82 L508.59,187.61 L509.35,188.22 L509.95,180.67 L510.72,182.81 L511.48,184.47 L512.25,185.76 L513.01,186.77 L513.77,187.56 L514.54,188.17 L515.14,180.65 L515.90,182.78 L516.67,184.43 L517.43,185.72 L518.20,186.72 L518.97,187.50 L519.73,188.11 L520.33,180.64 L521.10,182.75 L521.86,184.39 L522.62,185.68 L523.39,186.67 L524.15,187.45 L524.92,188.06 L525.52,180.62 L526.28,182.72 L527.05,184.36 L527.81,185.63 L528.57,186.62 L529.34,187.40 L530.10,188.00" fill="none" stroke="#2aaa4a" stroke-width="1.5" stroke-linejoin="round" />
<path d="M323.20,350.00 L323.30,283.30 L327.70,290.00 L328.30,265.50 L329.06,267.19 L329.83,268.57 L330.60,269.70 L331.36,270.62 L332.12,271.38 L332.89,272.00 L333.49,255.80 L334.25,257.80 L335.02,259.43 L335.78,260.77 L336.55,261.87 L337.31,262.77 L338.08,263.50 L338.68,250.20 L339.44,251.96 L340.21,253.41 L340.98,254.59 L341.74,255.56 L342.50,256.35 L343.27,257.00 L343.87,245.00 L344.63,246.82 L345.40,248.30 L346.16,249.52 L346.93,250.52 L347.69,251.33 L348.46,252.00 L349.06,241.00 L349.82,242.56 L350.59,243.83 L351.36,244.87 L352.12,245.73 L352.88,246.43 L353.65,247.00 L354.25,238.20 L355.01,239.93 L355.78,241.35 L356.54,242.51 L357.31,243.46 L358.07,244.24 L358.84,244.88 L359.44,236.20 L360.20,237.90 L360.97,239.29 L361.74,240.43 L362.50,241.36 L363.26,242.12 L364.03,242.75 L364.63,234.20 L365.39,235.87 L366.16,237.23 L366.92,238.35 L367.69,239.26 L368.45,240.01 L369.22,240.62 L369.82,232.20 L370.58,233.83 L371.35,235.17 L372.12,236.27 L372.88,237.16 L373.64,237.90 L374.41,238.50 L375.01,230.20 L375.77,231.80 L376.54,233.11 L377.31,234.19 L378.07,235.07 L378.84,235.79 L379.60,236.38 L380.20,228.20 L380.97,229.77 L381.73,231.05 L382.50,232.11 L383.26,232.97 L384.02,233.67 L384.79,234.25 L385.39,226.20 L386.15,227.74 L386.92,229.00 L387.69,230.03 L388.45,230.87 L389.22,231.56 L389.98,232.12 L390.58,224.20 L391.35,225.70 L392.11,226.94 L392.88,227.94 L393.64,228.77 L394.40,229.45 L395.17,230.00 L395.77,222.20 L396.53,223.99 L397.30,225.46 L398.06,226.66 L398.83,227.64 L399.60,228.44 L400.36,229.10 L400.96,222.30 L401.73,223.87 L402.49,225.15 L403.25,226.20 L404.02,227.06 L404.79,227.77 L405.55,228.34 L406.15,221.53 L406.92,223.10 L407.68,224.39 L408.45,225.44 L409.21,226.31 L409.98,227.01 L410.74,227.59 L411.34,220.77 L412.11,222.34 L412.87,223.63 L413.63,224.68 L414.40,225.55 L415.17,226.25 L415.93,226.83 L416.53,220.00 L417.30,221.58 L418.06,222.87 L418.83,223.92 L419.59,224.79 L420.36,225.50 L421.12,226.08 L421.72,219.23 L422.49,220.81 L423.25,222.11 L424.01,223.16 L424.78,224.03 L425.55,224.74 L426.31,225.32 L426.91,218.47 L427.68,220.05 L428.44,221.34 L429.21,222.41 L429.97,223.27 L430.74,223.98 L431.50,224.57 L432.10,217.70 L432.87,219.29 L433.63,220.58 L434.39,221.65 L435.16,222.52 L435.93,223.23 L436.69,223.81 L437.29,216.93 L438.06,218.52 L438.82,219.82 L439.59,220.89 L440.35,221.76 L441.12,222.47 L441.88,223.06 L442.48,216.17 L443.25,217.76 L444.01,219.06 L444.77,220.13 L445.54,221.00 L446.31,221.71 L447.07,222.30 L447.67,215.40 L448.44,217.12 L449.20,218.53 L449.97,219.69 L450.73,220.63 L451.50,221.41 L452.26,222.04 L452.86,215.13 L453.62,216.86 L454.39,218.27 L455.15,219.43 L455.92,220.37 L456.69,221.15 L457.45,221.79 L458.05,214.86 L458.81,216.59 L459.58,218.00 L460.35,219.16 L461.11,220.11 L461.88,220.89 L462.64,221.53 L463.24,214.59 L464.00,216.32 L464.77,217.74 L465.54,218.90 L466.30,219.85 L467.07,220.63 L467.83,221.27 L468.43,214.31 L469.20,216.05 L469.96,217.48 L470.73,218.64 L471.49,219.59 L472.25,220.37 L473.02,221.01 L473.62,214.04 L474.38,215.78 L475.15,217.21 L475.92,218.38 L476.68,219.33 L477.45,220.12 L478.21,220.76 L478.81,213.77 L479.58,215.52 L480.34,216.95 L481.11,218.12 L481.87,219.07 L482.63,219.86 L483.40,220.50 L484.00,213.50 L484.76,215.30 L485.53,216.78 L486.30,217.98 L487.06,218.97 L487.83,219.78 L488.59,220.44 L489.19,213.38 L489.96,215.20 L490.72,216.69 L491.49,217.90 L492.25,218.90 L493.01,219.72 L493.78,220.39 L494.38,213.26 L495.14,215.09 L495.91,216.59 L496.68,217.83 L497.44,218.83 L498.21,219.66 L498.97,220.33 L499.57,213.13 L500.34,214.99 L501.10,216.50 L501.87,217.75 L502.63,218.76 L503.39,219.60 L504.16,220.28 L504.76,213.01 L505.52,214.88 L506.29,216.41 L507.06,217.67 L507.82,218.69 L508.59,219.53 L509.35,220.22 L509.95,212.89 L510.72,214.78 L511.48,216.32 L512.25,217.59 L513.01,218.62 L513.77,219.47 L514.54,220.17 L515.14,212.77 L515.90,214.67 L516.67,216.23 L517.43,217.51 L518.20,218.55 L518.97,219.41 L519.73,220.11 L520.33,212.64 L521.10,214.57 L521.86,216.14 L522.62,217.43 L523.39,218.48 L524.15,219.35 L524.92,220.06 L525.52,212.52 L526.28,214.46 L527.05,216.05 L527.81,217.35 L528.57,218.41 L529.34,219.29 L530.10,220.00" fill="none" stroke="#f9e257" stroke-width="1.6" stroke-linejoin="round" />
</g>
<rect x="45.7" y="4.4" width="207.8" height="345.70000000000005" stroke="#000" stroke-width="1.25" fill="none"/>
<line x1="45.7" y1="177.4" x2="253.5" y2="177.4" stroke="#000" stroke-width="1.25" fill="none"/>
<rect x="322.7" y="4.4" width="207.40000000000003" height="345.70000000000005" stroke="#000" stroke-width="1.25" fill="none"/>
<line x1="322.7" y1="177.4" x2="530.1" y2="177.4" stroke="#000" stroke-width="1.25" fill="none"/>
<path d="M45.70,350.10V355.10 M322.70,350.10V355.10 M45.70,177.40V182.40 M45.70,4.40V9.40 M71.68,350.10V352.90 M348.62,350.10V352.90 M71.68,177.40V180.20 M71.68,4.40V7.20 M97.65,350.10V355.10 M374.55,350.10V355.10 M97.65,177.40V182.40 M374.55,177.40V180.00 M97.65,4.40V9.40 M123.63,350.10V352.90 M400.48,350.10V352.90 M123.63,177.40V180.20 M123.63,4.40V7.20 M149.60,350.10V355.10 M426.40,350.10V355.10 M149.60,177.40V182.40 M426.40,177.40V180.90 M149.60,4.40V9.40 M175.57,350.10V352.90 M452.33,350.10V352.90 M175.57,177.40V180.20 M175.57,4.40V7.20 M201.55,350.10V355.10 M478.25,350.10V355.10 M201.55,177.40V182.40 M478.25,177.40V180.90 M201.55,4.40V9.40 M227.53,350.10V352.90 M504.18,350.10V352.90 M227.53,177.40V180.20 M227.53,4.40V7.20 M253.50,350.10V355.10 M530.10,350.10V355.10 M253.50,177.40V182.40 M253.50,4.40V9.40 M42.90,149.10H45.70 M250.70,149.10H253.50 M40.70,120.10H45.70 M248.50,120.10H253.50 M42.90,91.10H45.70 M250.70,91.10H253.50 M40.70,62.10H45.70 M248.50,62.10H253.50 M42.90,33.10H45.70 M250.70,33.10H253.50 M40.70,4.10H45.70 M248.50,4.10H253.50 M40.70,340.33H45.70 M248.50,340.33H253.50 M42.90,319.97H45.70 M250.70,319.97H253.50 M40.70,299.60H45.70 M248.50,299.60H253.50 M42.90,279.23H45.70 M250.70,279.23H253.50 M40.70,258.87H45.70 M248.50,258.87H253.50 M42.90,238.50H45.70 M250.70,238.50H253.50 M40.70,218.14H45.70 M248.50,218.14H253.50 M42.90,197.77H45.70 M250.70,197.77H253.50 M40.70,177.40H45.70 M248.50,177.40H253.50 M317.70,177.50H322.70 M319.90,160.20H322.70 M317.70,142.90H322.70 M319.90,125.60H322.70 M317.70,108.30H322.70 M319.90,91.00H322.70 M317.70,73.70H322.70 M319.90,56.40H322.70 M317.70,39.10H322.70 M319.90,21.80H322.70 M317.70,4.50H322.70 M317.70,350.10H322.70 M319.90,325.44H322.70 M317.70,300.78H322.70 M319.90,276.12H322.70 M317.70,251.46H322.70 M319.90,226.80H322.70 M317.70,202.14H322.70 M319.90,177.48H322.70" stroke="#000" stroke-width="1.2" fill="none"/>
<g font-family="Liberation Serif" fill="#000" stroke="#000" stroke-width="0.15">
<text x="37.40" y="8.40" text-anchor="end" font-size="12.8" >1</text>
<text x="37.40" y="66.40" text-anchor="end" font-size="12.8" >0</text>
<text x="37.40" y="124.40" text-anchor="end" font-size="12.8" >-1</text>
<text x="37.40" y="222.44" text-anchor="end" font-size="12.8" >800</text>
<text x="37.40" y="263.17" text-anchor="end" font-size="12.8" >400</text>
<text x="37.40" y="303.90" text-anchor="end" font-size="12.8" >0</text>
<text x="37.40" y="344.63" text-anchor="end" font-size="12.8" >-400</text>
<text x="314.60" y="181.60" text-anchor="end" font-size="12.8" >0.0</text>
<text x="314.60" y="147.00" text-anchor="end" font-size="12.8" >0.2</text>
<text x="314.60" y="112.40" text-anchor="end" font-size="12.8" >0.4</text>
<text x="314.60" y="77.80" text-anchor="end" font-size="12.8" >0.6</text>
<text x="314.60" y="43.20" text-anchor="end" font-size="12.8" >0.8</text>
<text x="314.60" y="8.60" text-anchor="end" font-size="12.8" >1.0</text>
<text x="314.00" y="354.30" text-anchor="end" font-size="12.8" >0</text>
<text x="314.00" y="304.98" text-anchor="end" font-size="12.8" >100</text>
<text x="314.00" y="255.66" text-anchor="end" font-size="12.8" >200</text>
<text x="314.00" y="206.34" text-anchor="end" font-size="12.8" >300</text>
<text x="45.70" y="369.20" text-anchor="middle" font-size="12.8" >0</text>
<text x="322.70" y="369.20" text-anchor="middle" font-size="12.8" >0</text>
<text x="97.65" y="369.20" text-anchor="middle" font-size="12.8" >1</text>
<text x="374.55" y="369.20" text-anchor="middle" font-size="12.8" >1</text>
<text x="149.60" y="369.20" text-anchor="middle" font-size="12.8" >2</text>
<text x="426.40" y="369.20" text-anchor="middle" font-size="12.8" >2</text>
<text x="201.55" y="369.20" text-anchor="middle" font-size="12.8" >3</text>
<text x="478.25" y="369.20" text-anchor="middle" font-size="12.8" >3</text>
<text x="253.50" y="369.20" text-anchor="middle" font-size="12.8" >4</text>
<text x="530.10" y="369.20" text-anchor="middle" font-size="12.8" >4</text>
<text x="235.40" y="25.80" text-anchor="middle" font-size="13.7" >(a)</text>
<text x="60.40" y="197.50" text-anchor="middle" font-size="13.7" >(b)</text>
<text x="511.70" y="24.60" text-anchor="middle" font-size="13.7" >(c)</text>
<text x="338.60" y="197.00" text-anchor="middle" font-size="13.7" >(d)</text>
<text x="150.20" y="390.00" text-anchor="middle" font-size="13.3" >Time (s)</text>
<text x="426.60" y="390.00" text-anchor="middle" font-size="13.3" >Time (s)</text>
<text transform="translate(21.3,91.4) rotate(-90)" text-anchor="middle" font-size="13.4">Flux density, Transformer (T)</text>
<text transform="translate(10.2,265.2) rotate(-90)" text-anchor="middle" font-size="13.4">Secondary current (A)</text>
<text transform="translate(276.4,92.8) rotate(-90)" text-anchor="middle" font-size="13.4">Cycle-averaged</text>
<text transform="translate(293.2,91.3) rotate(-90)" text-anchor="middle" font-size="13.4">bridge voltage (mV)</text>
<text transform="translate(291.2,263.8) rotate(-90)" text-anchor="middle" font-size="13.4">Load current (A)</text>
</g>
<rect x="187.4" y="74.3" width="51.0" height="55.2" fill="#fff" stroke="#444" stroke-width="0.9"/>
<g font-family="Liberation Serif" fill="#000" stroke="#000" stroke-width="0.15">
<text x="187.6" y="84.6" font-size="11.2"><tspan font-style="italic">i</tspan><tspan font-size="8" dy="2.2">1,min</tspan><tspan dy="-2.2"> (A)</tspan></text>
<line x1="186.6" y1="96.4" x2="212.6" y2="96.4" stroke="#5566b8" stroke-width="1.6"/>
<text x="214.80" y="100.40" text-anchor="start" font-size="11.4" >-7.5</text>
<line x1="186.6" y1="109.8" x2="212.6" y2="109.8" stroke="#2aaa4a" stroke-width="1.6"/>
<text x="214.80" y="113.80" text-anchor="start" font-size="11.4" >-5.34</text>
<line x1="186.6" y1="123.4" x2="212.6" y2="123.4" stroke="#f9e257" stroke-width="1.6"/>
<text x="214.80" y="127.40" text-anchor="start" font-size="11.4" >-2.67</text>
</g>
<text x="222.4" y="172.3" font-family="Liberation Serif" font-weight="bold" font-size="13.4" fill="#0000f0">|B<tspan font-size="9.3" dy="2.6">sat</tspan><tspan dy="-2.6">|</tspan></text>
</svg>
</body></html>
